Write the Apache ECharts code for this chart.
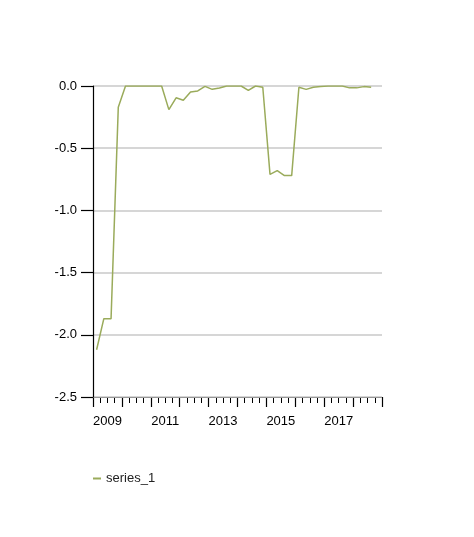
<!DOCTYPE html>
<html>
<head>
<meta charset="utf-8">
<script src="https://cdn.jsdelivr.net/npm/echarts@6/dist/echarts.min.js"></script>
<style>
    html, body { margin: 0; padding: 0; background: #fff; }
    #chart { width: 474px; height: 537px; }
</style>
</head>
<body>
<div id="chart"></div>
<script>
// quarterly observations, 2009Q1 .. 2018Q3
var quarters = [
    '2009Q1', '2009Q2', '2009Q3', '2009Q4',
    '2010Q1', '2010Q2', '2010Q3', '2010Q4',
    '2011Q1', '2011Q2', '2011Q3', '2011Q4',
    '2012Q1', '2012Q2', '2012Q3', '2012Q4',
    '2013Q1', '2013Q2', '2013Q3', '2013Q4',
    '2014Q1', '2014Q2', '2014Q3', '2014Q4',
    '2015Q1', '2015Q2', '2015Q3', '2015Q4',
    '2016Q1', '2016Q2', '2016Q3', '2016Q4',
    '2017Q1', '2017Q2', '2017Q3', '2017Q4',
    '2018Q1', '2018Q2', '2018Q3'
];
var series1 = [
    -2.12, -1.87, -1.87, -0.17,
    0.0, 0.0, 0.0, 0.0,
    0.0, 0.0, -0.19, -0.095,
    -0.115, -0.048, -0.04, -0.003,
    -0.027, -0.016, 0.0, 0.0,
    0.0, -0.035, 0.0, -0.01,
    -0.71, -0.68, -0.72, -0.72,
    -0.01, -0.027, -0.01, -0.005,
    0.0, 0.0, 0.0, -0.015,
    -0.015, -0.005, -0.01
];
var yTicks = [-2.5, -2.0, -1.5, -1.0, -0.5, 0.0];
var labelYears = [2009, 2011, 2013, 2015, 2017];

// quarter -> decimal year, placed mid quarter
var toYear = function (q) {
    var y = parseInt(q.substr(0, 4), 10);
    var n = parseInt(q.substr(5, 1), 10);
    return y + (n - 1) * 0.25 + 0.125;
};

var points = [];
for (var i = 0; i < quarters.length; i++) {
    points.push([toYear(quarters[i]), series1[i]]);
}

var font = 'Liberation Sans, Arial, Helvetica, sans-serif';
var myChart = echarts.init(document.getElementById('chart'));
var option = {
    animation: false,
    color: ['#9aab5b'],
    grid: {
        left: 93,
        right: 92,
        top: 86,
        bottom: 140,
        containLabel: false
    },
    legend: {
        left: 88,
        top: 467,
        icon: 'rect',
        itemWidth: 8,
        itemHeight: 2,
        itemGap: 10,
        textStyle: { color: '#222', fontSize: 13, fontFamily: font },
        data: ['series_1']
    },
    xAxis: [
        {
            type: 'value',
            min: 2009,
            max: 2019,
            interval: 1,
            axisLine: { show: true, onZero: false, lineStyle: { color: '#000', width: 1.2 } },
            axisTick: { show: true, length: 10, lineStyle: { color: '#000', width: 1.2 } },
            minorTick: { show: true, splitNumber: 4, length: 6, lineStyle: { color: '#000', width: 1 } },
            axisLabel: { show: false },
            splitLine: { show: false }
        },
        {
            type: 'value',
            position: 'bottom',
            min: 2009,
            max: 2019,
            interval: 0.5,
            axisLine: { show: false },
            axisTick: { show: false },
            splitLine: { show: false },
            axisLabel: {
                margin: 18,
                color: '#000',
                fontSize: 13,
                fontFamily: font,
                formatter: function (v) {
                    var y = Math.floor(v);
                    if (v - y === 0.5 && labelYears.indexOf(y) >= 0) {
                        return String(y);
                    }
                    return '';
                }
            }
        }
    ],
    yAxis: {
        type: 'value',
        z: 3,   // grid lines sit over the series, as in the original
        min: yTicks[0],
        max: yTicks[yTicks.length - 1],
        interval: 0.5,
        axisLine: { show: true, onZero: false, lineStyle: { color: '#000', width: 1.2 } },
        axisTick: { show: true, length: 12, lineStyle: { color: '#000', width: 1.2 } },
        axisLabel: {
            margin: 16,
            color: '#000',
            fontSize: 13,
            fontFamily: font,
            formatter: function (v) { return v.toFixed(1); }
        },
        splitLine: { show: true, lineStyle: { color: '#c8c8c8', width: 1.5 } }
    },
    series: [
        {
            name: 'series_1',
            type: 'line',
            xAxisIndex: 0,
            data: points,
            showSymbol: false,
            symbol: 'none',
            lineStyle: { width: 1.5, color: '#9aab5b' }
        }
    ]
};
myChart.setOption(option);
</script>
</body>
</html>
